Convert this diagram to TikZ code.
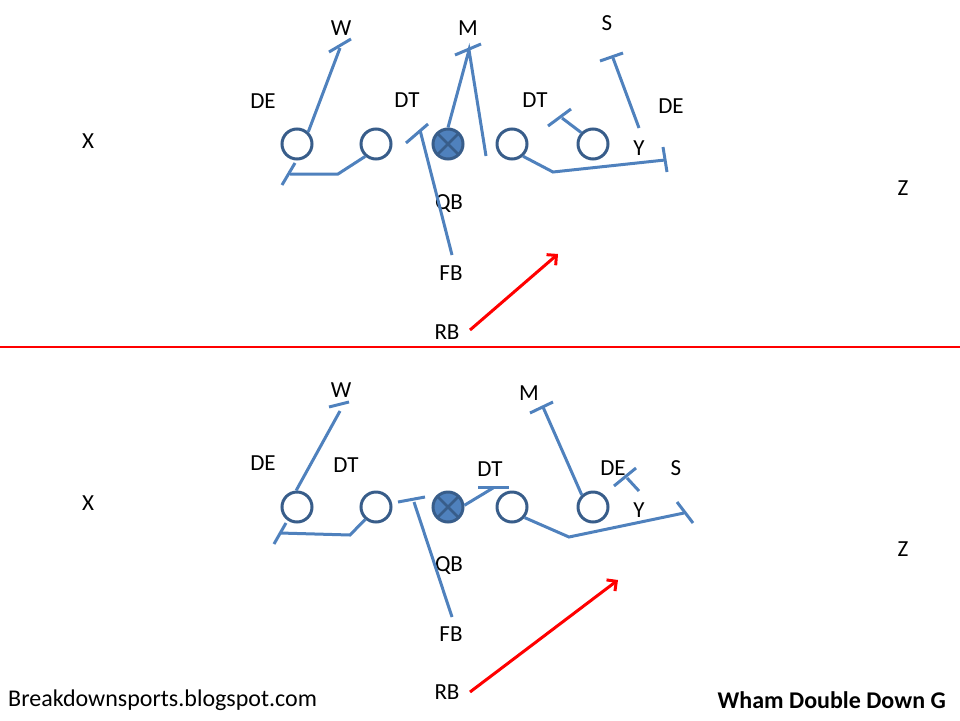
\documentclass[tikz,border=0pt]{standalone}
\usepackage{fontspec}
\setmainfont{Carlito}
\usepackage{xcolor}
\usepackage{tikz}
\usetikzlibrary{arrows.meta}
\definecolor{lineblue}{HTML}{4F81BD}
\definecolor{ringblue}{HTML}{385D8A}
\tikzset{>={Straight Barb[length=7pt,width=14pt]}}

\begin{document}
\begin{tikzpicture}[x=1pt, y=-1pt, player/.style={circle, draw=ringblue, fill=white, line width=3pt, minimum size=30pt, inner sep=0pt}, center/.style={player, fill=lineblue, path picture={\draw[ringblue, line width=2.5pt] (path picture bounding box.north west) -- (path picture bounding box.south east) (path picture bounding box.north east) -- (path picture bounding box.south west);}}, lbl/.style={inner sep=0pt, font=\fontsize{23}{27}\selectfont}, footer/.style={inner sep=0pt, font=\fontsize{24}{28}\selectfont}, block/.style={draw=lineblue, line width=3pt}, run/.style={draw=red, line width=3pt, ->}]

    \useasboundingbox (0,0) rectangle (960,720);

    %Top play - Nodes
    \node[lbl](tx) at (88,141){X};
    \node[lbl](tz) at (903,188){Z};
    \node[lbl](tw) at (341,28){W};
    \node[lbl](tm) at (468,28){M};
    \node[lbl](ts) at (607,23){S};
    \node[lbl](tdel) at (263,101){DE};
    \node[lbl](tdtl) at (407,100){DT};
    \node[lbl](tdtr) at (535,100){DT};
    \node[lbl](tder) at (671,106){DE};
    \node[lbl](ty) at (639,148){Y};
    \node[lbl](tqb) at (449,204){QB};
    \node[lbl](tfb) at (451,273){FB};
    \node[lbl](trb) at (447,332){RB};
    \node[player](tle) at (297,144){};
    \node[player](tlg) at (376,144){};
    \node[center](tc) at (448,144){};
    \node[player](trg) at (512,144){};
    \node[player](trt) at (593,144){};
    \coordinate (twp) at (340,48);
    \coordinate (tlgp1) at (338,174);
    \coordinate (tlgp2) at (290,174);
    \coordinate (tmp1) at (469,50);
    \coordinate (tmp2) at (486,156);
    \coordinate (tfbp1) at (452,255);
    \coordinate (tfbp2) at (420,130);
    \coordinate (trgp1) at (553,172);
    \coordinate (trgp2) at (665,160);
    \coordinate (trtp) at (562,118);
    \coordinate (typ1) at (639,128);
    \coordinate (typ2) at (613,58);
    \coordinate (trbp) at (470,330);
    \coordinate (tarr) at (558,254);

    %Top play - Lines
    \draw[block] (tle.47) -- (twp);
    \draw[block] (329,52) -- (351,39);
    \draw[block] (tlg.229) -- (tlgp1) -- (tlgp2);
    \draw[block] (295,163) -- (282,185);
    \draw[block] (tc.north) -- (tmp1) -- (tmp2);
    \draw[block] (455,55) -- (481,44);
    \draw[block] (tfbp1) -- (tfbp2);
    \draw[block] (406,143) -- (428,124);
    \draw[block] (trg.-48) -- (trgp1) -- (trgp2);
    \draw[block] (663,147) -- (667,172);
    \draw[block] (trt.136) -- (trtp);
    \draw[block] (548,126) -- (571,109);
    \draw[block] (typ1) -- (typ2);
    \draw[block] (600,61) -- (623,53);
    \draw[run] (trbp) -- (tarr);

    %Divider
    \draw[red, line width=2.5pt] (0,347) -- (960,347);

    %Bottom play - Nodes
    \node[lbl](bx) at (88,503){X};
    \node[lbl](bz) at (903,549){Z};
    \node[lbl](bw) at (341,390){W};
    \node[lbl](bm) at (529,393){M};
    \node[lbl](bdel) at (263,463){DE};
    \node[lbl](bdtl) at (346,465){DT};
    \node[lbl](bdtr) at (490,469){DT};
    \node[lbl](bder) at (613,468){DE};
    \node[lbl](bs) at (676,468){S};
    \node[lbl](by) at (639,510){Y};
    \node[lbl](bqb) at (449,566){QB};
    \node[lbl](bfb) at (451,634){FB};
    \node[lbl](brb) at (447,692){RB};
    \node[player](ble) at (297,507){};
    \node[player](blg) at (376,507){};
    \node[center](bc) at (448,507){};
    \node[player](brg) at (512,507){};
    \node[player](brt) at (593,507){};
    \coordinate (bwp) at (340,411);
    \coordinate (blgp1) at (350,535);
    \coordinate (blgp2) at (280,533);
    \coordinate (bfbp1) at (452,617);
    \coordinate (bfbp2) at (414,502);
    \coordinate (bcp) at (493,488);
    \coordinate (brgp1) at (569,537);
    \coordinate (brgp2) at (684,513);
    \coordinate (brtp) at (543,407);
    \coordinate (byp1) at (639,491);
    \coordinate (byp2) at (627,478);
    \coordinate (brbp) at (470,692);
    \coordinate (barr) at (618,580);

    %Bottom play - Lines
    \draw[block] (ble.93) -- (bwp);
    \draw[block] (329,407) -- (349,402);
    \draw[block] (blg.229) -- (blgp1) -- (blgp2);
    \draw[block] (274,544) -- (286,523);
    \draw[block] (bfbp1) -- (bfbp2);
    \draw[block] (398,502) -- (425,497);
    \draw[block] (bc.6) -- (bcp);
    \draw[block] (478,487) -- (509,487);
    \draw[block] (brg.-40) -- (brgp1) -- (brgp2);
    \draw[block] (677,502) -- (693,523);
    \draw[block] (brt.133) -- (brtp);
    \draw[block] (530,413) -- (553,402);
    \draw[block] (byp1) -- (byp2);
    \draw[block] (614,486) -- (636,468);
    \draw[run] (brbp) -- (barr);

    %Footer
    \node[footer, anchor=west](site) at (8,700){Breakdownsports.blogspot.com};
    \node[footer, anchor=east, font=\fontsize{24}{28}\selectfont\bfseries](title) at (946,700){Wham Double Down G};

\end{tikzpicture}
\end{document}
